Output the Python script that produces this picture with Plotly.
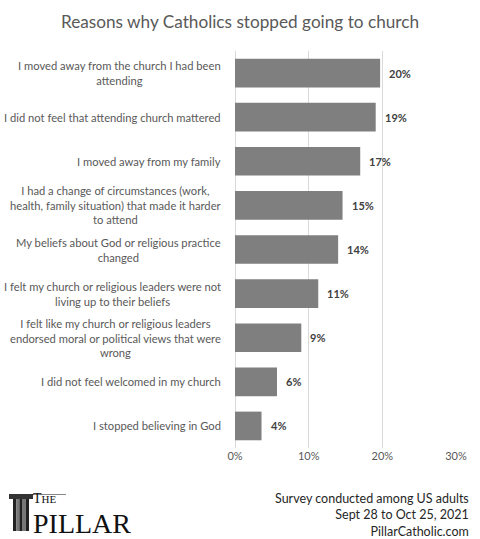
import plotly.graph_objects as go

W, H = 480, 539
# plot area in pixels (left, right, top, bottom)
L, R, T, B = 235, 456, 51, 448

reasons = [
    "I moved away from the church I had been<br>attending",
    "I did not feel that attending church mattered",
    "I moved away from my family",
    "I had a change of circumstances (work,<br>health, family situation) that made it harder<br>to attend",
    "My beliefs about God or religious practice<br>changed",
    "I felt my church or religious leaders were not<br>living up to their beliefs",
    "I felt like my church or religious leaders<br>endorsed moral or political views that were<br>wrong",
    "I did not feel welcomed in my church",
    "I stopped believing in God",
]
pct = [19.7, 19.1, 17.0, 14.6, 14.0, 11.3, 9.0, 5.7, 3.6]
x_ticks = [0, 10, 20, 30]
x_tick_text = ["0%", "10%", "20%", "30%"]

GREY_TXT = "#595959"
FONT = "Lato"


def px(x):
    return (x - L) / (R - L)


def py(y):
    return (B - y) / (B - T)


fig = go.Figure()
fig.add_trace(go.Bar(
    y=reasons, x=pct, orientation="h",
    marker=dict(color="#7f7f7f", line=dict(width=0)),
    hoverinfo="skip",
))

ann = []
for r, v in zip(reasons, pct):
    # category label, lines centred, block right-aligned
    ann.append(dict(xref="paper", yref="y", x=0, y=r, xshift=-12,
                    xanchor="right", yanchor="middle", align="center",
                    text=r, showarrow=False,
                    font=dict(family=FONT, size=11.2, color=GREY_TXT)))
    # value label
    ann.append(dict(xref="x", yref="y", x=v, y=r, xshift=7,
                    xanchor="left", yanchor="middle",
                    text=f"<b>{v:.0f}%</b>", showarrow=False,
                    font=dict(family=FONT, size=11, color="#404040")))

# footer
ann.append(dict(xref="paper", yref="paper", x=px(471), y=py(489),
                xanchor="right", yanchor="top", align="right",
                text="Survey conducted among US adults<br>Sept 28 to Oct 25, 2021<br>PillarCatholic.com",
                showarrow=False,
                font=dict(family=FONT, size=12.5, color="#262626")))
# logo wordmark (one text block so the two lines share a box)
ann.append(dict(xref="paper", yref="paper", x=px(31), y=py(541),
                xanchor="left", yanchor="bottom", align="left",
                text=("<span style='font-size:14px'>T</span>"
                      "<span style='font-size:11px'>HE</span><br>"
                      "<span style='font-size:28px'>PILLAR</span>"),
                showarrow=False,
                font=dict(family="Liberation Serif", size=23, color="#111111")))

shapes = []
# pillar icon: capital + fluted column
shapes.append(dict(type="rect", xref="paper", yref="paper",
                   x0=px(9), x1=px(33), y0=py(499), y1=py(494),
                   fillcolor="#333333", line=dict(width=0)))
shapes.append(dict(type="line", xref="paper", yref="paper",
                   x0=px(33), x1=px(66), y0=py(494.5), y1=py(494.5),
                   line=dict(color="#888888", width=1)))
for i, c in enumerate(["#222222", "#777777", "#222222", "#777777", "#222222"]):
    shapes.append(dict(type="rect", xref="paper", yref="paper",
                       x0=px(13 + i * 3.2), x1=px(16.2 + i * 3.2),
                       y0=py(531), y1=py(499),
                       fillcolor=c, line=dict(width=0)))

fig.update_layout(
    width=W, height=H,
    margin=dict(l=L, r=W - R, t=T, b=H - B),
    paper_bgcolor="white", plot_bgcolor="white",
    bargap=0.35,
    showlegend=False,
    title=dict(text="Reasons why Catholics stopped going to church",
               x=0.5, xanchor="center", y=1 - 22 / H, yanchor="middle",
               font=dict(family=FONT, size=17.2, color=GREY_TXT)),
    xaxis=dict(range=[0, 30], tickvals=x_ticks, ticktext=x_tick_text,
               showgrid=True, gridcolor="#d9d9d9", gridwidth=1,
               zeroline=True, zerolinecolor="#d9d9d9", zerolinewidth=1,
               showline=False, ticks="", ticklen=0,
               tickfont=dict(family=FONT, size=11, color=GREY_TXT),
               fixedrange=True),
    yaxis=dict(autorange="reversed", showticklabels=False, showgrid=False,
               zeroline=False, showline=False, ticks="", fixedrange=True),
    annotations=ann,
    shapes=shapes,
)

# drop the default body margin so the figure fills the window exactly
fig.write_html("out.html", config={"displayModeBar": False},
               post_script="document.body.style.margin='0';document.body.style.overflow='hidden';")
